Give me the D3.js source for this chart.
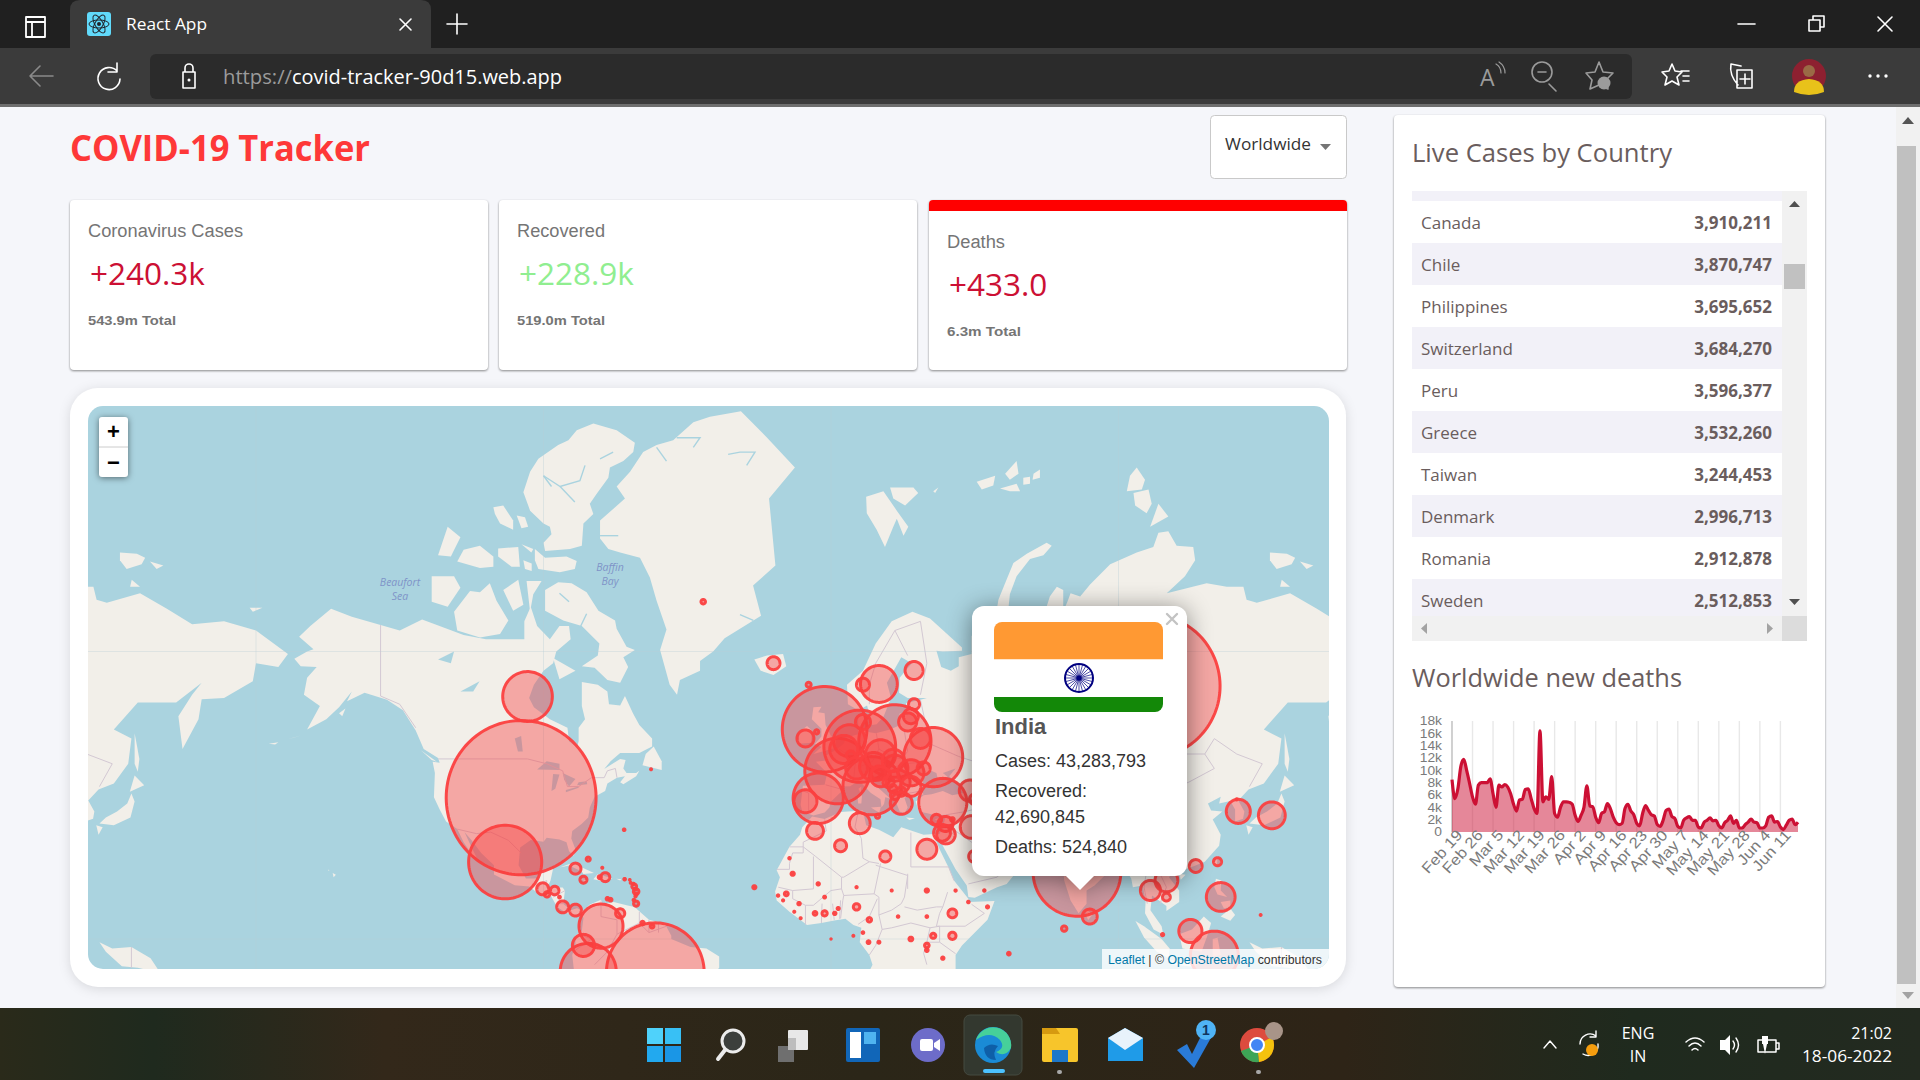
<!DOCTYPE html>
<html>
<head>
<meta charset="utf-8">
<title>COVID-19 Tracker</title>
<script src="https://d3js.org/d3.v7.min.js"></script>
<style>
	html, body { margin: 0; padding: 0; background: #f5f6fa; overflow: hidden; }
	svg { display: block; }
	text { font-family: "Liberation Sans", Arial, sans-serif; }
	.segoe { font-family: "Open Sans", sans-serif; }
	.card { filter: drop-shadow(0 1px 1px rgba(0,0,0,.45)); }
	.mapcard { filter: drop-shadow(0 2px 6px rgba(0,0,0,.12)); }
	.popup { filter: drop-shadow(0 3px 12px rgba(0,0,0,.45)); }
	.ctrl { filter: drop-shadow(0 1px 3px rgba(0,0,0,.5)); }
	.axis path.domain { display: none; }
	.axis text { font-family: "Liberation Sans", Arial, sans-serif; font-size: 15px; fill: #7a7a7a; }
	.axis.yticks text { font-size: 12px; }
</style>
</head>
<body>
<script>
// ---- data ----
var tableCountries = ["Canada", "Chile", "Philippines", "Switzerland", "Peru", "Greece", "Taiwan", "Denmark", "Romania", "Sweden"];
var tableCases = ["3,910,211", "3,870,747", "3,695,652", "3,684,270", "3,596,377", "3,532,260", "3,244,453", "2,996,713", "2,912,878", "2,512,853"];

var infoTitles = ["Coronavirus Cases", "Recovered", "Deaths"];
var infoToday = ["+240.3k", "+228.9k", "+433.0"];
var infoTotals = ["543.9m Total", "519.0m Total", "6.3m Total"];

// new deaths per day, starting on Feb 19
var newDeaths = [
	8500, 5400, 7000, 10600, 11800, 10000, 7900, 5700, 4500, 7600, 8000, 8000, 8000, 8600,
	6200, 4000, 7600, 7300, 7700, 7300, 6200, 4500, 3400, 5200, 5300, 6900, 7000, 5400,
	3800, 3000, 16400, 4900, 5700, 5300, 9000, 3000, 2400, 4000, 4900, 4900, 4800, 4500,
	2700, 1700, 2700, 4000, 7500, 4200, 4100, 2400, 1500, 3000, 3300, 4600, 3800, 2400,
	1500, 1200, 1400, 3800, 4500, 3400, 2800, 1400, 1000, 3000, 4300, 3500, 2800, 2600,
	1200, 900, 1900, 3500, 3700, 2500, 2200, 900, 650, 1900, 2300, 2500, 1900, 1900,
	800, 650, 1600, 1900, 2300, 1800, 1900, 1000, 650, 1500, 1900, 2600, 1400, 1900,
	650, 650, 1200, 1600, 2100, 1600, 1500, 650, 650, 1000, 2400, 2600, 1600, 1700,
	800, 400, 1100, 1900, 2100, 1200, 1600
];
var yTicks = [0, 2000, 4000, 6000, 8000, 10000, 12000, 14000, 16000, 18000];

// country bubbles: name, lat, lon, cases
var countries = [
	["USA", 38, -97, 87000000], ["India", 20, 77, 43283793], ["Brazil", -10, -55, 59000000], ["Russia", 60, 100, 29800000],
	["Mexico", 23, -102, 28800000], ["Canada", 60, -95, 3910211], ["Peru", -10, -76, 19400000], ["Colombia", 4, -72, 12300000],
	["Ecuador", -2, -77.5, 3100000], ["Venezuela", 8, -66, 520000], ["Guyana", 5, -59, 70000], ["Suriname", 4, -56, 80000],
	["Cuba", 21.5, -80, 670000], ["Jamaica", 18.25, -77.5, 283000], ["Bahamas", 24.25, -76, 84000], ["Turks and Caicos", 21.75, -71.6, 6000],
	["Dominican Republic", 19, -70.67, 460000], ["Haiti", 19, -72.4, 50000], ["Virgin Islands", 18.4, -64.6, 15000], ["Anguilla", 18.2, -63, 3000],
	["St Kitts", 17.3, -62.7, 6000], ["Antigua", 17, -61.8, 8000], ["Guadeloupe", 16.25, -61.6, 130000], ["Dominica", 15.4, -61.3, 15000],
	["Martinique", 14.7, -61, 180000], ["St Lucia", 13.9, -61, 26000], ["St Vincent", 13.25, -61.2, 9000], ["Grenada", 12.1, -61.7, 15000],
	["Trinidad", 11, -61, 160000], ["Aruba", 12.5, -69.97, 40000], ["Curacao", 12.2, -69, 45000], ["Guatemala", 15.5, -90.25, 850000],
	["Honduras", 15, -86.5, 430000], ["El Salvador", 13.83, -88.9, 170000], ["Nicaragua", 13, -85, 18000], ["Costa Rica", 10, -84, 880000],
	["Panama", 9, -80, 880000], ["Bermuda", 32.33, -64.75, 12000], ["St Pierre", 46.83, -56.33, 3000], ["Greenland", 72, -40, 12000],
	["Iceland", 65, -18, 190000], ["Faroe", 62, -7, 34000], ["UK", 54, -2, 15600000], ["Ireland", 53, -8, 663000], ["Isle of Man", 54.25, -4.5, 37000],
	["France", 46, 2, 13000000], ["Germany", 51, 9, 12900000], ["Spain", 40, -4, 9400000], ["Portugal", 39.5, -8, 2000000], ["Italy", 42.83, 12.83, 11500000],
	["Poland", 52, 20, 12500000], ["Ukraine", 49, 32, 9500000], ["Turkey", 39, 35, 8900000], ["Sweden", 62, 15, 1900000], ["Norway", 62, 10, 238000],
	["Finland", 64, 26, 396000], ["Estonia", 59, 26, 204000], ["Latvia", 57, 25, 427000], ["Lithuania", 56, 24, 650000], ["Denmark", 56, 10, 450000],
	["Netherlands", 52.5, 5.75, 2400000], ["Belgium", 50.83, 4, 2000000], ["Luxembourg", 49.75, 6.17, 200000], ["Switzerland", 47, 8, 1400000],
	["Austria", 47.33, 13.33, 2300000], ["Czechia", 49.75, 15.5, 2400000], ["Hungary", 47, 20, 2000000], ["Slovakia", 48.67, 19.5, 1350000],
	["Slovenia", 46, 14.82, 600000], ["Croatia", 45.17, 15.5, 1270000], ["Bosnia", 44, 18, 400000], ["Serbia", 44, 21, 1900000], ["Romania", 46, 25, 2100000],
	["Bulgaria", 43, 25, 1360000], ["Moldova", 47, 29, 500000], ["Belarus", 53, 28, 920000], ["Albania", 41, 20, 280000], ["North Macedonia", 41.83, 22, 300000],
	["Montenegro", 42.5, 19.3, 230000], ["Greece", 39, 22, 1860000], ["Malta", 35.83, 14.58, 70000], ["Cyprus", 35, 33, 450000], ["Lebanon", 33.83, 35.83, 1000000],
	["Israel", 31.5, 34.75, 1300000], ["Jordan", 31, 36, 1600000], ["Syria", 35, 38, 55000], ["Iraq", 33, 44, 2300000], ["Iran", 32, 53, 7000000], ["Georgia", 42, 43.5, 1600000],
	["Armenia", 40, 45, 420000], ["Azerbaijan", 40.5, 47.5, 790000], ["Saudi Arabia", 25, 45, 770000], ["Morocco", 32, -5, 1300000], ["Tunisia", 34, 9, 1900000],
	["Algeria", 28, 3, 711000], ["Libya", 25, 17, 633000], ["Egypt", 27, 30, 2000000], ["Western Sahara", 24.5, -13, 10000], ["Mauritania", 20, -12, 58000],
	["Cabo Verde", 16, -24, 56000], ["Senegal", 14, -14, 86000], ["Gambia", 13.47, -16.57, 12000], ["Guinea-Bissau", 12, -15, 8000], ["Guinea", 11, -10, 37000],
	["Sierra Leone", 8.5, -11.5, 7000], ["Liberia", 6.5, -9.5, 7000], ["Mali", 17, -4, 31000], ["Burkina Faso", 13, -2, 21000], ["Cote d'Ivoire", 8, -5, 82000],
	["Ghana", 8, -2, 165000], ["Togo", 8, 1.17, 37000], ["Benin", 9.5, 2.25, 27000], ["Niger", 16, 8, 9000], ["Nigeria", 10, 8, 256000], ["Chad", 15, 19, 7000],
	["Sudan", 15, 30, 62000], ["Eritrea", 15, 39, 10000], ["Djibouti", 11.5, 43, 15000], ["Ethiopia", 8, 38, 480000], ["Somalia", 10, 49, 27000], ["Yemen", 15, 48, 12000],
	["Cameroon", 6, 12, 120000], ["CAR", 7, 21, 14000], ["South Sudan", 7, 30, 17000], ["Sao Tome", 1, 7, 6000], ["Equatorial Guinea", 2, 10, 16000], ["Gabon", -1, 11.75, 48000],
	["Congo", -1, 15, 24000], ["DRC", 0, 25, 89000], ["Uganda", 1, 32, 165000], ["Kenya", 1, 38, 330000], ["Rwanda", -2, 30, 130000], ["Burundi", -3.5, 30, 42000],
	["Tanzania", -6, 35, 34000], ["Seychelles", -4.58, 55.67, 44000], ["Maldives", 3.25, 73, 180000], ["Diamond Princess", 0, 0, 712], ["Sri Lanka", 7, 81, 1400000],
	["Pakistan", 30, 70, 1500000], ["Bangladesh", 24, 90, 1950000], ["Nepal", 28, 84, 980000], ["Myanmar", 22, 98, 610000], ["Thailand", 15, 100, 2400000], ["Laos", 18, 105, 3000000],
	["Cambodia", 13, 105, 370000], ["Hong Kong", 22.25, 114.17, 900000], ["Taiwan", 23.5, 121, 350000], ["Philippines", 13, 122, 5000000], ["Palau", 7.5, 134.5, 5000],
	["Malaysia", 2.5, 112.5, 3400000], ["Singapore", 1.37, 103.8, 30000], ["Indonesia", -5, 120, 14500000], ["S. Korea", 37, 127.5, 2350000], ["N. Korea", 40, 127, 5000], ["Japan", 36, 138, 3000000]
];

// hand traced outlines in lon/lat, longitudes past 180 keep Chukotka in one piece
var landOutlines = [
	// the Americas
	[[-168,65.6],[-164,66.5],[-162,66.8],[-166.5,68.3],[-163,69.5],[-156.5,71.3],[-150,70.5],[-141,69.6],[-135,69],[-128,70.2],[-124,69.7],[-115,68.5],[-108,68],[-100,68],[-96,68],[-96,70],[-94,71.5],[-92,69.5],[-88,68],[-85,69.5],[-82,69.5],[-81.5,68],[-86,66.5],[-87,65],[-90,64],[-93,62],[-94.5,60],[-93,58.5],[-88,56.5],[-82.5,55],[-82,52.5],[-79.5,51.3],[-79,52.5],[-79,55],[-77,56.5],[-78,58.7],[-78,62.4],[-73,62],[-70,61],[-69.5,59],[-66,58.8],[-64.5,60.3],[-62,57.5],[-60,55.5],[-56,53],[-56,51.5],[-60,50.2],[-66,50.2],[-69,48.5],[-71,46.9],[-66,49],[-64.3,48.8],[-65,47],[-64,46],[-61,46],[-60,46.5],[-61,45.3],[-65,43.5],[-66,44],[-64.5,45.3],[-67,45],[-70,43.7],[-70.7,42],[-74,40.6],[-75.5,38],[-76,35.5],[-78,33.9],[-81,32],[-81.3,30],[-80,27],[-80.5,25.2],[-82,26.5],[-82.8,29],[-85,29.7],[-89,30.2],[-90,29.1],[-94,29.6],[-97.3,27.5],[-97.8,22.5],[-95.5,18.6],[-92,18.6],[-90.5,21],[-87,21.5],[-87.8,18],[-88.8,15.9],[-84,15.9],[-83.3,14.9],[-83.8,11],[-81.5,9],[-79.5,9.6],[-77.5,8.7],[-75.5,10.7],[-72,12.2],[-71.5,10.8],[-68,11.5],[-64,10.5],[-61.5,10],[-57,6],[-52,4.8],[-50,1],[-50,0],[-44,-2.5],[-39,-3],[-35,-5.5],[-35,-9],[-40,-14],[-80,-14],[-81,-5],[-80,-2],[-80,1],[-78,2.5],[-77.5,6.5],[-78,8],[-80,7.5],[-83,8.2],[-85.7,10],[-87.5,13],[-91.5,14],[-94.5,16.2],[-99,16.6],[-105.5,19.8],[-105.5,22.5],[-109.5,26],[-112.5,29.5],[-114.7,31.7],[-112.5,27.5],[-110,23],[-112,25],[-115,29],[-117,32.5],[-120.5,34.5],[-122.5,37.5],[-124.3,40.5],[-124,46],[-124.7,48.4],[-122.5,48.2],[-123,49.2],[-127.5,51],[-130,54.5],[-134,58],[-139,59.7],[-146,60.8],[-151.5,59.5],[-150,61],[-154,58.5],[-158,56.5],[-164,54.7],[-160,58.7],[-165,60.5],[-164,63],[-161,64.5],[-166,64.6]],
	// Canadian arctic
	[[-89.5,73.1],[-85.4,73.8],[-81.2,73.7],[-76.5,72.9],[-72.8,71.1],[-67.6,70.1],[-67.1,69.2],[-64,67.1],[-61.4,66.7],[-65,65.8],[-63.5,64.5],[-66,62.3],[-70,62.7],[-74,64.4],[-78,64.6],[-73,66],[-72.5,67.5],[-78,69.5],[-83.8,70.1],[-89.5,71.1]],
	[[-118,71],[-113,73],[-109.9,72.9],[-106.8,73.7],[-104.7,72.1],[-101,70.1],[-103.6,68.6],[-109.9,68.2],[-117,69]],
	[[-125,72],[-120,71.5],[-116,73.3],[-118,74.3],[-125,74.3]],
	[[-117,75.5],[-109.9,75],[-105.7,75.1],[-105.7,75.9],[-109.9,76.7],[-115,76.4]],
	[[-123,76],[-119,75.9],[-116,77.3],[-120,78]],
	[[-104.2,76.5],[-97.9,76.6],[-97.4,75.1],[-100,75.1],[-104.2,75.9]],
	[[-92.7,76.45],[-89.5,75.8],[-82.8,75.9],[-79.6,75.55],[-80.2,74.9],[-84.9,74.65],[-91.6,74.9],[-92.7,75.6]],
	[[-96.9,76.8],[-93.2,76.45],[-93.8,76.2]],
	[[-96.3,75.6],[-93.7,75.35],[-93.7,74.75],[-95.8,74.9]],
	[[-105.7,79.2],[-102.6,79.3],[-99.5,78.4],[-99.5,77.8],[-103.6,78.2],[-105.2,78.8]],
	[[-98.4,78.7],[-95.8,78.6],[-94.8,78],[-96.9,77.9]],
	[[-102.6,73.1],[-97.9,74],[-96.3,71.7],[-99.5,71.1]],
	[[-95.3,73.9],[-90.6,73.9],[-93.2,72.7],[-94.2,71]],
	[[-91.6,81.7],[-85.4,82.3],[-82.2,82.5],[-79.6,82.9],[-74.4,83.15],[-67.1,82.9],[-61.4,82.4],[-61.9,82],[-65,81.6],[-69.2,81.3],[-69.7,80.8],[-73.4,79.95],[-75.5,79.4],[-74.4,78.8],[-77.5,78.2],[-78,76.7],[-81.7,76.45],[-89.5,76.3],[-90,76.9],[-87.5,77.5],[-88,78],[-90,78.2],[-94.2,79],[-96.3,80.05],[-94.2,81.1]],
	[[-87,65.7],[-80,64],[-85,62.8]],
	[[-59,47.7],[-53,46.7],[-53,48.5],[-55.5,51.5],[-58,50]],
	[[-128.3,50.7],[-123.4,48.4],[-125,48.8]],
	[[-154,57.5],[-152,58.3],[-153,57]],
	[[-170,52.9],[-166,53.6],[-168,53.2]],
	[[-176,52],[-173,52.3],[-174,51.9]],
	// Greenland, Iceland, British Isles
	[[-28.2,83.6],[-20,82.6],[-11.3,81.3],[-19.4,79.7],[-17.4,75.2],[-24.4,73.5],[-21.9,70.6],[-33.3,68.1],[-36.9,66.5],[-41,65.3],[-41,64],[-47.3,62.7],[-48.2,60.5],[-50.5,62],[-53.5,66.7],[-51.5,69.1],[-54.6,72.1],[-56.7,74.2],[-59.8,75.8],[-66,76.2],[-69.7,76.45],[-72.3,77.2],[-72.3,78.4],[-68.2,79.1],[-64.5,79.7],[-67.1,80.35],[-62.9,81.1],[-58.8,82],[-54.6,82.3],[-49.4,82.5],[-43.1,83.2],[-37.9,83.4]],
	[[-24,65.5],[-22,64],[-18,63.4],[-14,64.6],[-15,66.2],[-20,66]],
	[[-5.5,50],[1.3,51.2],[1.6,52.7],[0,53.5],[-1.7,55.5],[-2,57.5],[-4,57.7],[-3,58.6],[-5.5,58.5],[-6,56.5],[-3,54.8],[-3,53.4],[-5,52],[-3,51.4]],
	[[-10,52],[-6.2,52.2],[-6,54.5],[-7.5,55.3],[-10,54.2]],
	// Eurasia
	[[-5.5,36],[-9,37],[-9.5,38.7],[-8.8,43.2],[-2,43.4],[-1.2,46],[-4.7,48.4],[-1.5,48.7],[-1.5,49.7],[1.5,50.8],[4,52],[4.8,53.2],[8.5,53.8],[8.5,57],[10.5,57.7],[10,55],[12,54.2],[14,54],[18.5,54.7],[21,55.3],[21.5,57.5],[24,57.2],[23.5,59.2],[28,59.7],[30,60],[24,60],[21.3,60.8],[21.5,63],[25.3,65],[22,65.8],[17.5,62.3],[18.8,60],[16.5,57],[14.3,55.6],[12.8,55.5],[11.3,58.8],[8.5,58],[5.3,59],[5,62],[10,64],[14,67.5],[19,70],[25.5,71],[31,70.3],[41,67],[41,66.6],[35,66.5],[33,66.6],[34.5,64.5],[37.5,64],[40,64.6],[40,65.8],[44,66.2],[44,68.4],[54,68.5],[60,69],[68,68.7],[67,71],[68.5,72.5],[70.7,73.4],[72.7,73.1],[72.7,71],[74,72],[75,72.8],[78,72.5],[81.1,73.6],[87.4,75.3],[95.7,76.2],[100.9,76.6],[102.5,77.6],[105.6,77.7],[108.2,76.7],[113.4,76.6],[114,75.6],[110.8,74.3],[105.1,72.8],[117.6,73.7],[123.9,73.4],[129.1,73.4],[130.1,72.2],[133.3,71.9],[143.7,72.8],[152.1,71.3],[160,69.7],[170,70],[180,69],[190,66.2],[187,64.5],[180,65],[179,62.5],[170,60],[163,59.8],[162,56.5],[157,51],[155.7,57],[160,60.5],[163,62.3],[155,59.3],[143,59.3],[135.5,54.7],[141,53],[140,48],[135.5,43.7],[130.7,42.3],[127.5,39.7],[129.4,37],[129,35.2],[126.5,34.5],[126.5,37.5],[125,39.6],[121.5,39],[122,40.6],[118,39],[119,37.3],[122.5,37],[119.5,35],[122,31],[121.5,28],[117,23.5],[113.5,22.2],[110,21],[108,21.7],[105.8,19],[109,15],[109,11.5],[105,8.7],[105,10.3],[100.5,13.5],[100,9],[103.5,4],[104,1.4],[101,3],[98.3,8],[98.5,12],[97.5,16.5],[94.5,16],[94,18.5],[91.5,22.5],[88.5,21.7],[86.8,20.5],[82.5,16.5],[80,15],[80,11],[77.5,8],[75,12],[73,18],[72.7,21],[70,20.8],[69,22.3],[67,24.8],[62,25.2],[57,25.6],[56.5,27],[52,27.5],[50,30],[48,30],[48,28.5],[50,26],[51.5,25],[54,24],[56.2,26],[56.5,24.2],[59.8,22.5],[55,17],[52,16],[45,12.8],[43,13],[42.5,16.5],[39,21.3],[35,28],[34.8,29.5],[32.6,30],[34,31.3],[35,32.8],[36,36.2],[32.5,36.1],[30.5,36.5],[27.5,37],[26.5,39.5],[29,41],[31.5,41.2],[35,42],[38,41],[41.5,41.5],[39,44],[37,45.3],[39,47],[35,46],[36.5,45.2],[33.5,44.5],[33,46],[31,46.6],[29,45],[28,42],[29,41.2],[26.2,40.5],[24,40.8],[23,40.3],[24,38],[23,36.5],[21.5,37],[19.5,41],[19,42],[14,45.3],[12.4,45.3],[13.5,43.5],[16,41.9],[18.5,40.2],[17,40.5],[16.6,38.9],[15.8,38],[15.5,40],[12.5,41.5],[10.5,43],[8.8,44.4],[6,43.1],[3.2,43],[3.2,41.8],[0,39.5],[-0.5,38],[-2,36.8]],
	// Africa
	[[-5.9,35.8],[-2,35.1],[3,36.9],[10,37.3],[11,33.5],[15,32.3],[19.5,30.3],[22,33],[29,31],[32.3,31.2],[34.3,31.2],[32.6,30],[34,27],[37,21.5],[38.5,18],[43,12.5],[43.3,11.5],[51.2,11.8],[49,6],[41,-2],[39,-5],[39,-14],[10,-14],[13,-8],[12,-5],[9,-1],[9.5,3.5],[7,4.4],[4.5,6.3],[1,5.8],[-3,5],[-7.5,4.4],[-13,8.5],[-17,12],[-17.5,14.7],[-16,19],[-17,21],[-13,27.7],[-9.7,31],[-9,33]],
	// arctic Eurasia
	[[11,79.8],[16.4,80.1],[20.6,79],[24.2,78],[22.7,77.4],[20.6,78.5],[19.5,78],[16.9,76.6],[14.3,77.8],[11.2,78.85]],
	[[18.5,80.3],[25.8,80.3],[27.3,80],[23.2,79.3],[19.5,79.7]],
	[[32,80.1],[33.6,80.3],[32.6,80]],
	[[45.6,80.6],[51.4,80.9],[50.8,80.4],[47.2,80.2]],
	[[52.9,80.25],[58.1,80.5],[59.2,80.1],[56,80.1]],
	[[60.2,80.8],[62.3,80.85],[62.3,80.5],[60.2,80.45]],
	[[63.4,81],[65.4,81.2],[65.4,80.8],[63.1,80.7]],
	[[54.5,81],[58.1,81.6],[58.7,81],[56,80.7]],
	[[69.1,76.7],[67.5,76.9],[61.3,76.1],[57.1,75.4],[54.5,73.7],[52.4,72.2],[51.9,71.2],[55.5,71.2],[56,72.7],[58.1,74.3],[62.3,75.7],[66.5,76]],
	[[95.7,81.3],[98.3,80.7],[97.3,80.2],[92.6,80.1],[93.6,80.9]],
	[[94.7,80],[99.4,80.2],[100.4,79.4],[98.8,78.85],[95.2,79.3]],
	[[102.5,79.4],[105.6,78.65],[99.9,78]],
	[[137.4,76.2],[142.7,76.1],[145.3,75.8],[144.2,75.3],[139.5,74.9],[137.4,75.6]],
	[[146.8,75.5],[151,75.2],[148.9,74.9]],
	[[141.1,74],[143.7,73.4],[140.6,73.4]],
	[[179,71],[182,71.4],[178,71.4]],
	// east Asia and the islands
	[[142,54],[143.5,49],[143,46.3],[142,48]],
	[[140.5,41.8],[145,43.3],[142,45.5]],
	[[131,34],[135.5,33.5],[140.7,35.5],[142,39.5],[141,41.4],[139.7,39],[136.5,37],[133,35.5]],
	[[130,33.5],[132,33],[130.7,31]],
	[[121,25.2],[120,23],[120.8,22]],
	[[109,20],[111,19.7],[109.5,18.2]],
	[[120.5,18.5],[122.2,18],[122,15],[124,13],[121,13.8],[120,16]],
	[[122,7],[125,9.5],[126.5,7.5],[125,5.7]],
	[[122,11.5],[125,12],[125,10],[123,9.5]],
	[[109,1.5],[113,3],[116.7,7],[119,5],[117.8,1],[116,-4],[110,-3]],
	[[119.5,0],[125,1.5],[121,0.5],[122,-5],[119.5,-5.5]],
	[[95.3,5.6],[98,4],[103.5,0],[106,-3],[105.8,-6],[102,-4],[98,0.5]],
	[[105,-6.5],[114.5,-7.5],[114,-8.7],[106,-7.8]],
	[[131,-1],[135,-3],[141,-2.5],[147,-6],[150,-10.5],[143,-9],[138,-8.5],[133,-4]],
	[[79.8,9.5],[81.8,7.5],[80.5,5.9],[79.8,7.5]],
	// Caribbean and Mediterranean
	[[-85,21.8],[-81,23.1],[-74.2,20.2],[-77.5,19.9],[-78,20.7],[-82,22.4]],
	[[-74.4,18.4],[-73,19.9],[-68.4,18.6],[-71.5,17.8]],
	[[-78.3,18.4],[-76.2,18.1],[-77,17.8]],
	[[-67.2,18.5],[-65.6,18.4],[-66,18]],
	[[12.5,38],[15.6,38.2],[15.1,36.7]],
	[[8.3,41],[9.7,41],[9.5,39],[8.5,39]],
	[[8.6,42.5],[9.5,43],[9.3,41.4]],
	[[23.5,35.5],[26.3,35.3],[24.5,34.9]],
	[[32.4,35],[34.5,35.6],[33.5,34.7]],
	// Pacific bits
	[[-156,20.2],[-155,19.7],[-155.7,19]],
	[[-157.5,21.2],[-157,21.1],[-157.3,20.9]]
];

var lakeOutlines = [
	[[47,45],[51,47],[53,46],[51,44.5],[53,41],[54,37],[50,37.3],[49,40],[47.5,43]],
	[[-92,46.8],[-85,46.7],[-85,48],[-89,48.5]],
	[[-87.5,42],[-86.3,42.5],[-85,45.7],[-87,45.8]],
	[[-84,46],[-80,44.7],[-82,43],[-83.5,44.5]],
	[[-83,41.7],[-79,42.7],[-79,43],[-83,42.2]],
	[[-79.5,43.3],[-76.3,43.5],[-76.5,44.2],[-79,44]],
	[[-123,65.5],[-118,66.5],[-119,65]],
	[[-116,61],[-110,62.5],[-112,61]],
	[[-98,50.5],[-96.5,50.5],[-97,53.5],[-99,53]],
	[[104,51.6],[105,51.6],[110,55.7],[109,55.7]],
	[[58.5,46],[61,46.5],[60,44],[58.5,44]]
];

// fjords too thin to be worth a polygon
var fjordLines = [
	[[-90,80.9],[-84.8,80.35],[-78.6,80.65],[-77,81.4]], [[-84.8,80.35],[-80.2,79.5]], [[-90,80.9],[-87.5,80.35]], [[-72.3,81.7],[-68.2,82]],
	[[-32.2,81.9],[-28.5,82],[-23.8,82],[-26.4,81.4]], [[-54.6,82.2],[-51.5,81.6]], [[-48.3,82.6],[-41,82.6],[-43.1,82.2]],
	[[-72.3,77.4],[-66.6,77.4]], [[-28.5,70.7],[-24.3,70.1]], [[-76.5,70.8],[-78.6,69.3]], [[-85,72.8],[-82,72]]
];

var borderLines = [
	[[-141,69.6],[-141,60.3],[-135,59],[-130,55]],
	[[-123,49],[-95,49],[-89,48],[-84,46.5],[-82.5,43],[-79,43],[-75,45],[-71,45],[-70,46.5],[-67.5,47],[-67,45]],
	[[-117,32.5],[-111,31.3],[-106.5,31.7],[-101,29.5],[-97,26]],
	[[-92,14.5],[-91,17],[-89,18]],[[-89,18],[-89,15.8]],[[-87.5,13],[-89,14.5]],[[-83.2,15],[-87,13]],[[-83.7,11],[-85.7,11]],[[-83,8.2],[-82.8,9.5]],
	[[-72,12],[-72,7],[-67,6],[-67,1.5]],[[-79,1.5],[-75,0],[-70,-4]],[[-60,8.5],[-60,5]],[[-57,6],[-57,2]],[[-54,5.5],[-54,2]],
	[[-60,5],[-57,2],[-51.5,4]],[[-60,5],[-67,1.5],[-70,-4],[-74,-8]],[[-80,-3.5],[-75,0]],[[-77.5,8.7],[-77.5,7.5]],
	[[-2,35],[-1.5,32],[-8.7,29],[-8.7,27.7]],[[-8.7,27.7],[-4.8,25],[3.3,19],[4,19],[12,23.5]],[[-13,27.7],[-8.7,27.7]],
	[[-17,21.3],[-13,21.3],[-13,23],[-12,26],[-8.7,26],[-8.7,27.7]],[[-16.5,16],[-12,15],[-5.5,15.5],[-5.5,25]],
	[[3.3,19],[3.3,15.5],[0,15],[-5.5,10.5],[-8,10.5],[-12,12.5],[-12,15]],[[8.5,37],[7.5,33],[9.5,30],[10,24.5],[12,23.5]],
	[[25,31.6],[25,22]],[[25,22],[36.8,22]],[[14,22.5],[24,19.5]],[[24,19.5],[23,13],[22,11],[19,9],[15,7.5],[15,13],[13.5,14],[15.5,23]],
	[[12,23.5],[15,23]],[[13.5,14],[4,13.5],[3.3,15.5]],[[24,20],[24,15.5]],[[36.8,22],[38.5,18]],[[36.5,14.5],[35,10],[34,8],[33,4],[42,4],[48,8],[44,10.8]],
	[[23,10],[27,9],[33,10],[35,10]],[[15,7.5],[16,3],[19,3.5],[25,5],[31,3.5],[34,4]],[[31,3.5],[30,-1],[29,-4.5],[30,-8]],
	[[3,6.4],[3.7,12],[4,13.5]],[[8.5,4.6],[12,7],[14.5,12.5]],[[34,-1],[39,-4.6]],[[34,4],[34,-1],[30,-1]],[[12,-5],[14,-2],[16,3]],
	[[-3,5],[-2.8,11]],[[1,6],[0.5,11]],[[-8,4.5],[-8,10.5]],[[2.7,6.3],[3,12]],
	[[28,59.7],[31,52],[40,49.5],[47,48],[50,51],[60,51],[70,55],[77,53],[87,49],[98,50],[107,50],[117,50],[120,53],[127,50],[135,48],[131,43]],
	[[87,49],[96,43],[105,42],[112,44],[120,47],[117,50]],[[87,49],[80,42],[74,39]],[[74,39],[77,35],[80,30],[88,27.5],[97,28],[99,22],[102,22],[106,23],[108,21.7]],
	[[61.5,25],[61,30],[61,36]],[[61,36],[66,37],[74,37]],[[61,30],[66,30],[70,33],[74,37]],[[68,23.7],[70,26],[74,32],[77,35]],
	[[99,22],[98,16],[99,11]],[[102,22],[105,16],[103,11]],[[35,29.4],[39,32],[44,29],[48,28.5]],[[43,17],[52,19],[55,22],[52,24]],
	[[48,30],[46,35],[44.5,37.5]],[[36,36.2],[42,37],[44.5,37.5],[44,40],[41.5,41.5]],[[52,42],[56,45],[61,43],[66,41],[74,42],[80,42]],[[54,37],[61,36]],
	[[-1.7,43.4],[3.2,42.4]],[[-8.8,42],[-7,41.5],[-7,37.2]],[[2.5,51],[6,49.5],[8,49],[7.5,47.5],[7,44]],[[14.2,54],[15,51],[13,48.5],[9.5,47.5]],
	[[23,54.3],[24,50.5],[22,49],[19,49.5],[15,51]],[[13.7,45.8],[16.5,46.5],[22.8,48],[26.5,48.2],[30,46],[29,45.3]],[[19,42],[22.5,44],[23,41.3],[26.2,41.7],[28,42]],
	[[12,59],[12,62],[14,65],[20,69],[28,70]],[[24,66],[20,69]],[[28,70],[30,65],[28,60.5]],[[141,-2.5],[141,-9]]
];

// ---- page ----
var svg = d3.select("body").append("svg").attr("width", 1920).attr("height", 1080);
var defs = svg.append("defs");

function rect(parent, x, y, w, h, fill, rx) {
	return parent.append("rect").attr("x", x).attr("y", y).attr("width", w).attr("height", h).attr("fill", fill).attr("rx", rx || 0);
}
function label(parent, x, y, str, size, color, opts) {
	opts = opts || {};
	var t = parent.append("text").attr("x", x).attr("y", y).text(str)
		.attr("font-size", size).attr("fill", color)
		.attr("font-weight", opts.weight || 400)
		.attr("text-anchor", opts.anchor || "start");
	if (opts.cls) t.attr("class", opts.cls);
	if (opts.style) t.attr("font-style", opts.style);
	if (opts.width) t.attr("textLength", opts.width).attr("lengthAdjust", "spacingAndGlyphs");
	return t;
}
function stroked(parent, d, color, width) {
	return parent.append("path").attr("d", d).attr("fill", "none").attr("stroke", color)
		.attr("stroke-width", width || 1.6).attr("stroke-linecap", "round").attr("stroke-linejoin", "round");
}
function filled(parent, d, color) {
	return parent.append("path").attr("d", d).attr("fill", color);
}

rect(svg, 0, 0, 1920, 1080, "#f5f6fa");

// browser chrome
var chrome = svg.append("g");
rect(chrome, 0, 0, 1920, 48, "#202020");
rect(chrome, 0, 48, 1920, 56, "#3b3b3b");
rect(chrome, 0, 104, 1920, 3, "#6e6e6e");
filled(chrome, "M70 48 V10 Q70 0 80 0 H421 Q431 0 431 10 V48 Z", "#3b3b3b");
rect(chrome, 150, 54, 1482, 45, "#2b2b2b", 6);

stroked(chrome, "M26 17 H45 V37 H26 Z M26 22 H45 M32 22 V37", "#ffffff", 1.8);
rect(chrome, 87, 12, 24, 24, "#61dafb", 3);
var atom = chrome.append("g").attr("transform", "translate(99,24)");
[0, 60, 120].forEach(function(a) {
	atom.append("ellipse").attr("rx", 10).attr("ry", 4).attr("transform", "rotate(" + a + ")")
		.attr("fill", "none").attr("stroke", "#20232a").attr("stroke-width", 1);
});
atom.append("circle").attr("r", 2).attr("fill", "#20232a");
label(chrome, 126, 30, "React App", 17, "#ffffff", {cls: "segoe", width: 81});
stroked(chrome, "M400 19 L411 30 M411 19 L400 30", "#ffffff");
stroked(chrome, "M457 14 V34 M447 24 H467", "#ffffff");
stroked(chrome, "M1738 24 H1755", "#ffffff");
stroked(chrome, "M1809 20 H1820 V31 H1809 Z M1813 20 V16 H1824 V27 H1820", "#ffffff");
stroked(chrome, "M1878 17 L1892 31 M1892 17 L1878 31", "#ffffff");

stroked(chrome, "M53 76 H30 M40 66 L30 76 L40 86", "#8a8a8a");
stroked(chrome, "M117 71 A11 11 0 1 0 120 79 M117 63 V72 H108", "#ffffff");
stroked(chrome, "M183 72 H195 V88 H183 Z M185 72 V68 A4 4 0 0 1 193 68 V72", "#ffffff");
chrome.append("circle").attr("cx", 189).attr("cy", 80).attr("r", 1.5).attr("fill", "#ffffff");
label(chrome, 223, 83.5, "https://", 20, "#9b9b9b", {cls: "segoe", width: 69});
label(chrome, 292, 83.5, "covid-tracker-90d15.web.app", 20, "#ffffff", {cls: "segoe", width: 270});

label(chrome, 1480, 86, "A", 23, "#9b9b9b", {cls: "segoe"});
stroked(chrome, "M1496 64 Q1501 67 1501 73 M1499 62 Q1505 66 1505 73", "#9b9b9b", 1.2);
stroked(chrome, "M1538 72 H1546 M1549 84 L1556 91 M1552 72 A10 10 0 1 1 1532 72 A10 10 0 1 1 1552 72", "#9b9b9b");
stroked(chrome, "M1599 62 L1603 72 L1613 73 L1606 80 L1608 89 L1599 85 L1590 89 L1592 80 L1586 73 L1595 72 Z", "#9b9b9b");
chrome.append("circle").attr("cx", 1604).attr("cy", 83).attr("r", 6.5).attr("fill", "#9b9b9b");
stroked(chrome, "M1672 64 L1675 71 L1682 72 L1677 77 L1679 85 L1672 81 L1665 85 L1667 77 L1662 72 L1669 71 Z M1681 71 H1689 M1683 76 H1689 M1683 81 H1689", "#ffffff");
stroked(chrome, "M1738 85 Q1729 75 1731 64 L1741 66 M1737 70 H1752 V88 H1737 Z M1745 74 V84 M1740 79 H1750", "#ffffff");
chrome.append("circle").attr("cx", 1809).attr("cy", 76).attr("r", 17).attr("fill", "#8d2030");
filled(chrome, "M1794 92 Q1794 80 1809 79 Q1824 80 1824 92 Q1809 98 1794 92 Z", "#e8c21a");
chrome.append("circle").attr("cx", 1809).attr("cy", 71).attr("r", 6).attr("fill", "#9a6a45");
[1870, 1878, 1886].forEach(function(x) { chrome.append("circle").attr("cx", x).attr("cy", 76).attr("r", 1.7).attr("fill", "#ffffff"); });

// page scrollbar
rect(svg, 1896, 107, 24, 901, "#f1f1f1");
rect(svg, 1897, 146, 19, 838, "#c0c0c0");
filled(svg, "M1902 124 L1908 117 L1914 124 Z", "#555555");
filled(svg, "M1902 992 L1908 999 L1914 992 Z", "#a3a3a3");

// header
label(svg, 70, 161, "COVID-19 Tracker", 35, "#fe3838", {cls: "segoe", weight: 700, width: 300});
rect(svg, 1210.5, 115.5, 136, 63, "#ffffff", 4).attr("stroke", "#c9c9c9");
label(svg, 1225, 150, "Worldwide", 17, "#333333", {cls: "segoe", width: 86});
filled(svg, "M1320 144 H1331 L1325.5 150 Z", "#757575");

// info cards
var cardX = [70, 499, 929];
var cardColors = ["#cc1034", "#90ee90", "#cc1034"];
var titleWidths = [155, 88, 58];
var totalWidths = [88, 88, 74];
infoTitles.forEach(function(title, i) {
	var g = svg.append("g");
	var dy = i === 2 ? 11 : 0;
	rect(g.append("g").attr("class", "card"), cardX[i], 200, 418, 170, "#ffffff", 4);
	if (i === 2) filled(g, "M929 211 V204 Q929 200 933 200 H1343 Q1347 200 1347 204 V211 Z", "#ff0000");
	label(g, cardX[i] + 18, 236.5 + dy, title, 18, "#757575", {width: titleWidths[i]});
	label(g, cardX[i] + 20, 285 + dy, infoToday[i], 31.5, cardColors[i], {cls: "segoe"});
	label(g, cardX[i] + 18, 324.5 + dy, infoTotals[i], 13.5, "#757575", {weight: 700, width: totalWidths[i]});
});

// map card
rect(svg.append("g").attr("class", "mapcard"), 70, 388, 1276, 599, "#ffffff", 28);
defs.append("clipPath").attr("id", "mapClip").append("rect")
	.attr("x", 88).attr("y", 406).attr("width", 1241).attr("height", 563).attr("rx", 15);

// web mercator, one world is 1150px wide at this zoom
var xMap = d3.scaleLinear().domain([-180, 180]).range([256, 1406]);
var yMap = d3.scaleLinear().domain([0, 1]).range([939, 755.97]);
function px(p) { return xMap(p[0]); }
function py(p) { return yMap(d3.geoMercatorRaw(0, p[1] * Math.PI / 180)[1]); }
var closedLine = d3.line().x(px).y(py).curve(d3.curveLinearClosed);
var openLine = d3.line().x(px).y(py);

var map = svg.append("g").attr("clip-path", "url(#mapClip)");
rect(map, 88, 406, 1241, 563, "#aad3df");

[0, -1150].forEach(function(shift) {
	var world = map.append("g").attr("transform", "translate(" + shift + ",0)");
	world.selectAll(".land").data(landOutlines).enter().append("path")
		.attr("class", "land").attr("d", closedLine).attr("fill", "#f2efe9");
	world.selectAll(".lake").data(lakeOutlines).enter().append("path")
		.attr("class", "lake").attr("d", closedLine).attr("fill", "#aad3df");
	world.selectAll(".fjord").data(fjordLines).enter().append("path")
		.attr("class", "fjord").attr("d", openLine).attr("fill", "none").attr("stroke", "#aad3df").attr("stroke-width", 1.4);
	world.selectAll(".border").data(borderLines).enter().append("path")
		.attr("class", "border").attr("d", openLine).attr("fill", "none").attr("stroke", "#d3c8d3").attr("stroke-width", 1);
});

// faint tile seams
[-180, -90, 0, 90].forEach(function(lon) {
	map.append("line").attr("x1", xMap(lon)).attr("x2", xMap(lon)).attr("y1", 406).attr("y2", 969)
		.attr("stroke", "#b7cfd6").attr("stroke-opacity", 0.35);
});
[66.51, 0].forEach(function(lat) {
	map.append("line").attr("x1", 88).attr("x2", 1329).attr("y1", py([0, lat])).attr("y2", py([0, lat]))
		.attr("stroke", "#b7cfd6").attr("stroke-opacity", 0.35);
});

label(map, 400, 586, "Beaufort", 10.5, "#7f93c8", {cls: "segoe", style: "italic", anchor: "middle"});
label(map, 400, 600, "Sea", 10.5, "#7f93c8", {cls: "segoe", style: "italic", anchor: "middle"});
label(map, 610, 571, "Baffin", 10.5, "#7f93c8", {cls: "segoe", style: "italic", anchor: "middle"});
label(map, 610, 585, "Bay", 10.5, "#7f93c8", {cls: "segoe", style: "italic", anchor: "middle"});

// bubbles are true circles on the sphere, so they stretch north like Leaflet's
var radiusScale = d3.scaleSqrt().domain([0, 1e6]).range([0, 1.96]);
countries.forEach(function(c) {
	var ring = d3.geoCircle().center([c[2], c[1]]).radius(radiusScale(c[3])).precision(3)().coordinates[0];
	map.append("path").attr("d", closedLine(ring))
		.attr("fill", "#f83c3c").attr("fill-opacity", 0.4)
		.attr("stroke", "#fb4040").attr("stroke-opacity", 0.95).attr("stroke-width", 3);
});

// zoom control and attribution
var ctrl = map.append("g");
rect(ctrl.append("g").attr("class", "ctrl"), 99, 417, 29, 60, "#ffffff", 3);
ctrl.append("line").attr("x1", 99).attr("x2", 128).attr("y1", 447).attr("y2", 447).attr("stroke", "#cccccc");
label(ctrl, 113.5, 439, "+", 22, "#000000", {anchor: "middle", weight: 700});
label(ctrl, 113.5, 470, "\u2212", 22, "#000000", {anchor: "middle", weight: 700});
rect(map, 1102, 949, 227, 20, "#ffffff").attr("fill-opacity", 0.8);
var attr = label(map, 1108, 963.5, "", 12.3, "#333333");
attr.append("tspan").attr("fill", "#0078a8").text("Leaflet");
attr.append("tspan").text(" | \u00a9 ");
attr.append("tspan").attr("fill", "#0078a8").text("OpenStreetMap");
attr.append("tspan").text(" contributors");

// popup for India
var popup = svg.append("g");
var popBox = popup.append("g").attr("class", "popup");
rect(popBox, 972, 606, 215, 270, "#ffffff", 12);
filled(popBox, "M1066 876 L1080 890 L1094 876 Z", "#ffffff");
defs.append("clipPath").attr("id", "flagClip").append("rect")
	.attr("x", 994).attr("y", 622).attr("width", 169).attr("height", 90).attr("rx", 8);
var flag = popup.append("g").attr("clip-path", "url(#flagClip)");
rect(flag, 994, 622, 169, 37.5, "#ff9933");
rect(flag, 994, 659.5, 169, 37.5, "#ffffff");
rect(flag, 994, 697, 169, 15, "#138808");
popup.append("circle").attr("cx", 1079).attr("cy", 678).attr("r", 14).attr("fill", "#ffffff").attr("stroke", "#000080").attr("stroke-width", 2);
d3.range(24).forEach(function(i) {
	var a = i * Math.PI / 12;
	popup.append("line").attr("x1", 1079).attr("y1", 678)
		.attr("x2", 1079 + 13.5 * Math.cos(a)).attr("y2", 678 + 13.5 * Math.sin(a))
		.attr("stroke", "#000080").attr("stroke-width", 0.7);
});
popup.append("circle").attr("cx", 1079).attr("cy", 678).attr("r", 2.6).attr("fill", "#000080");
stroked(popup, "M1167 614 L1177 624 M1177 614 L1167 624", "#c3c3c3", 2.4);
label(popup, 995, 734, "India", 22, "#555555", {weight: 700});
label(popup, 995, 767, "Cases: 43,283,793", 18, "#333333");
label(popup, 995, 797, "Recovered:", 18, "#333333");
label(popup, 995, 823, "42,690,845", 18, "#333333");
label(popup, 995, 853, "Deaths: 524,840", 18, "#333333");

// right column
rect(svg.append("g").attr("class", "card"), 1394, 115, 431, 872, "#ffffff", 4);
label(svg, 1412, 162, "Live Cases by Country", 25, "#6a5d5d", {cls: "segoe", width: 260});

defs.append("clipPath").attr("id", "tableClip").append("rect")
	.attr("x", 1412).attr("y", 191).attr("width", 370).attr("height", 425);
var table = svg.append("g").attr("clip-path", "url(#tableClip)");
rect(table, 1412, 191, 370, 10, "#f2f1f8");
tableCountries.forEach(function(name, i) {
	var top = 201 + i * 42;
	if (i % 2) rect(table, 1412, top, 370, 42, "#f2f1f8");
	label(table, 1421, top + 28, name, 17, "#6a5d5d", {cls: "segoe"});
	label(table, 1772, top + 28, tableCases[i], 17, "#6a5d5d", {cls: "segoe", weight: 700, anchor: "end"});
});
// table scrollbars
rect(svg, 1782, 191, 25, 425, "#f1f1f1");
rect(svg, 1412, 616, 370, 25, "#f1f1f1");
rect(svg, 1782, 616, 25, 25, "#dcdcdc");
rect(svg, 1784, 264, 21, 25, "#c1c1c1");
filled(svg, "M1789 207 L1794.5 201 L1800 207 Z", "#505050");
filled(svg, "M1789 599 L1794.5 605 L1800 599 Z", "#505050");
filled(svg, "M1427 623 L1421 628.5 L1427 634 Z", "#a3a3a3");
filled(svg, "M1767 623 L1773 628.5 L1767 634 Z", "#a3a3a3");

label(svg, 1412, 687, "Worldwide new deaths", 25, "#6a5d5d", {cls: "segoe", width: 270});

// new deaths chart
var firstDay = new Date(Date.UTC(2022, 1, 19));
var days = newDeaths.map(function(d, i) { return d3.utcDay.offset(firstDay, i); });
var xChart = d3.scaleUtc().domain([firstDay, days[days.length - 1]]).range([1452, 1798]);
var yChart = d3.scaleLinear().domain([0, 18000]).range([832, 721]);
var weekTicks = d3.utcDay.range(firstDay, days[days.length - 1], 7);

var chart = svg.append("g");
chart.selectAll(".grid").data(weekTicks).enter().append("line")
	.attr("class", "grid")
	.attr("x1", function(d) { return xChart(d); }).attr("x2", function(d) { return xChart(d); })
	.attr("y1", 721).attr("y2", 832)
	.attr("stroke-width", 1.4)
	.attr("stroke", function(d, i) { return i ? "#e8e8e8" : "#bdbdbd"; });

var area = d3.area().x(function(d, i) { return xChart(days[i]); }).y0(yChart(0))
	.y1(function(d) { return yChart(d); }).curve(d3.curveMonotoneX);
var line = d3.line().x(function(d, i) { return xChart(days[i]); })
	.y(function(d) { return yChart(d); }).curve(d3.curveMonotoneX);
chart.append("path").attr("d", area(newDeaths)).attr("fill", "#cc1034").attr("fill-opacity", 0.5);
chart.append("path").attr("d", line(newDeaths)).attr("fill", "none").attr("stroke", "#cc1034").attr("stroke-width", 3.2);

// y labels sit closer than their line height, so keep them short and widen them
var yAxis = d3.axisLeft(yChart).tickValues(yTicks).tickSize(0).tickPadding(10)
	.tickFormat(function(d) { return d ? d / 1000 + "k" : "0"; });
chart.append("g").attr("class", "axis yticks").attr("transform", "translate(1452,0)").call(yAxis)
	.selectAll("text")
	.attr("textLength", function() { return this.getComputedTextLength() * 1.15; })
	.attr("lengthAdjust", "spacingAndGlyphs");

var xAxis = d3.axisBottom(xChart).tickValues(weekTicks).tickSize(0).tickPadding(0)
	.tickFormat(d3.utcFormat("%b %-d"));
chart.append("g").attr("class", "axis").attr("transform", "translate(0,832)").call(xAxis)
	.selectAll("text")
	.attr("text-anchor", "end")
	.attr("dx", "0.3em").attr("dy", "0.7em")
	.attr("transform", "rotate(-48)")
	.attr("textLength", function() { return this.getComputedTextLength() * 1.12; })
	.attr("lengthAdjust", "spacingAndGlyphs");

// taskbar
var barGrad = defs.append("linearGradient").attr("id", "barGrad");
[[0, "#2a2a1a"], [0.08, "#1f2a1e"], [0.2, "#33281a"], [0.45, "#2b2618"], [0.7, "#2e2417"], [0.85, "#1f2a1e"], [1, "#232a20"]].forEach(function(s) {
	barGrad.append("stop").attr("offset", s[0]).attr("stop-color", s[1]);
});
rect(svg, 0, 1008, 1920, 72, "url(#barGrad)");
var bar = svg.append("g");
rect(bar, 647, 1028, 16, 16, "#4fd2fb"); rect(bar, 665, 1028, 16, 16, "#38c0f5");
rect(bar, 647, 1046, 16, 16, "#22a9ef"); rect(bar, 665, 1046, 16, 16, "#1a96e6");
bar.append("circle").attr("cx", 733).attr("cy", 1041).attr("r", 11).attr("fill", "#3c3f3c").attr("stroke", "#ececec").attr("stroke-width", 3);
stroked(bar, "M725 1050 L718 1059", "#ececec", 4);
rect(bar, 778, 1046, 16, 16, "#6f6f6f"); rect(bar, 788, 1030, 20, 20, "#e8e8e8", 1); rect(bar, 788, 1038, 8, 12, "#bdbdbd");
rect(bar, 846, 1028, 34, 34, "#1166b8", 2); rect(bar, 850, 1032, 11, 26, "#ffffff"); rect(bar, 864, 1032, 12, 12, "#4fb4f0");
bar.append("circle").attr("cx", 928).attr("cy", 1045).attr("r", 17).attr("fill", "#6d6cc9");
rect(bar, 920, 1039, 13, 12, "#ffffff", 2); filled(bar, "M934 1043 L940 1039 V1051 L934 1047 Z", "#ffffff");
rect(bar, 964, 1015, 58, 60, "#33382f", 6).attr("stroke", "#454a40");
bar.append("circle").attr("cx", 993).attr("cy", 1045).attr("r", 18).attr("fill", "#1a8bd6");
filled(bar, "M976 1040 A18 18 0 0 1 1011 1048 Q1005 1058 996 1052 Q1006 1048 1000 1040 Q990 1030 976 1040 Z", "#46d09a");
filled(bar, "M984 1048 Q990 1042 998 1046 Q992 1052 996 1060 Q985 1060 984 1048 Z", "#0e5fa8");
rect(bar, 983, 1069, 22, 4, "#4cc2ff", 2);
rect(bar, 1042, 1028, 36, 34, "#f7c52b", 2); filled(bar, "M1042 1034 V1028 H1056 L1060 1034 Z", "#d69a10"); rect(bar, 1052, 1050, 16, 12, "#1d77c9");
rect(bar, 1057, 1070, 5, 4, "#a8a8a8", 2);
filled(bar, "M1108 1038 L1125 1028 L1143 1038 V1061 H1108 Z", "#1f9be8"); filled(bar, "M1108 1038 L1125 1050 L1143 1038 L1125 1028 Z", "#e8f2fb");
filled(bar, "M1177 1050 L1187 1044 L1192 1054 L1205 1028 L1212 1036 L1194 1068 Z", "#2a7bd8");
bar.append("circle").attr("cx", 1206).attr("cy", 1030).attr("r", 10).attr("fill", "#4fb3f5");
label(bar, 1206, 1035, "1", 14, "#10355e", {anchor: "middle", weight: 700});
bar.append("circle").attr("cx", 1257).attr("cy", 1045).attr("r", 17).attr("fill", "#dd4b3e");
filled(bar, "M1257 1045 L1272 1037 A17 17 0 0 1 1259 1062 Z", "#f4c20d");
filled(bar, "M1257 1045 L1259 1062 A17 17 0 0 1 1241 1051 Z", "#3da556");
bar.append("circle").attr("cx", 1257).attr("cy", 1045).attr("r", 7).attr("fill", "#4285f4").attr("stroke", "#ffffff").attr("stroke-width", 2);
bar.append("circle").attr("cx", 1274).attr("cy", 1031).attr("r", 9).attr("fill", "#a89488");
rect(bar, 1256, 1070, 5, 4, "#a8a8a8", 2);
stroked(bar, "M1544 1048 L1550 1041 L1556 1048", "#ffffff", 1.4);
stroked(bar, "M1580 1044 A10 10 0 0 1 1596 1036 M1596 1031 V1037 H1590 M1598 1044 A10 10 0 0 1 1583 1054", "#ffffff", 1.4);
bar.append("circle").attr("cx", 1592).attr("cy", 1050).attr("r", 6).attr("fill", "#f59d0e");
label(bar, 1638, 1039, "ENG", 16, "#ffffff", {anchor: "middle", cls: "segoe"});
label(bar, 1638, 1062, "IN", 16, "#ffffff", {anchor: "middle", cls: "segoe"});
stroked(bar, "M1686 1042 Q1695 1034 1704 1042 M1689 1046 Q1695 1040 1701 1046 M1692 1050 Q1695 1047 1698 1050", "#ffffff", 1.5);
filled(bar, "M1720 1040 H1725 L1730 1035 V1055 L1725 1050 H1720 Z", "#ffffff");
stroked(bar, "M1733 1041 Q1736 1045 1733 1049 M1736 1038 Q1741 1045 1736 1052", "#ffffff", 1.4);
stroked(bar, "M1758 1040 H1776 V1052 H1758 Z M1776 1043 H1779 V1049 H1776", "#ffffff", 1.5);
filled(bar, "M1762 1036 V1044 H1768 V1036 Z M1763 1044 L1765 1054 L1767 1044 Z", "#ffffff");
label(bar, 1892, 1039, "21:02", 16, "#ffffff", {anchor: "end", cls: "segoe"});
label(bar, 1892, 1062, "18-06-2022", 16, "#ffffff", {anchor: "end", cls: "segoe", width: 90});
</script>
</body>
</html>
